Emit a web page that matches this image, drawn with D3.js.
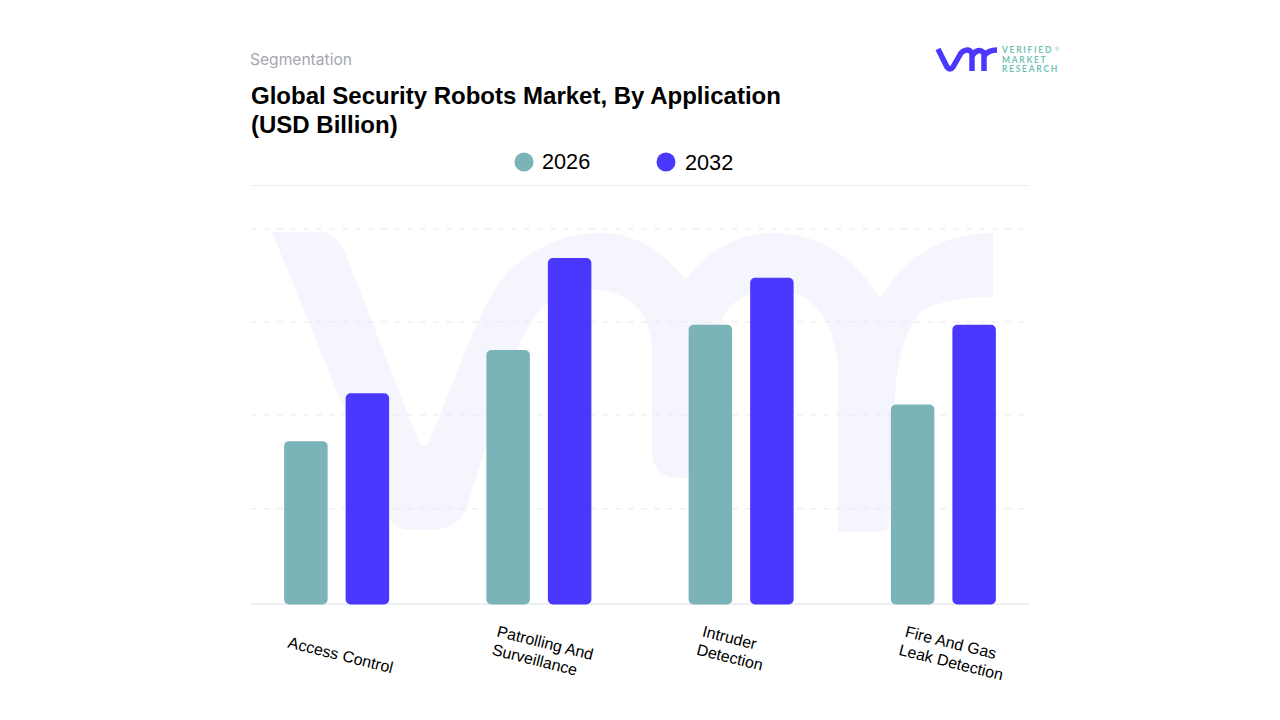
<!DOCTYPE html>
<html>
<head>
<meta charset="utf-8">
<script src="https://cdn.jsdelivr.net/npm/d3@7"></script>
<style>
  html, body { margin: 0; padding: 0; background: #fff; }
  svg { display: block; }
  text { font-family: "Liberation Sans", Arial, sans-serif; }
</style>
</head>
<body>
<div id="chart"></div>
<script>
// values are read off the picture, in gridline units (the chart has no value axis)
var categories = ["Access Control", "Patrolling And Surveillance", "Intruder Detection", "Fire And Gas Leak Detection"];
var categoryLines = [["Access Control"], ["Patrolling And", "Surveillance"], ["Intruder", "Detection"], ["Fire And Gas", "Leak Detection"]];
var years = ["2026", "2032"];
var values2026 = [1.74, 2.71, 2.98, 2.13];
var values2032 = [2.25, 3.69, 3.48, 2.98];
var gridValues = [1.02, 2.02, 3.01, 4];
var colors = ["#7ab3b8", "#4b38ff"];

var svg = d3.select("#chart").append("svg").attr("width", 1280).attr("height", 720);

var y = d3.scaleLinear().domain([0, 4]).range([604.5, 229]);
var x0 = d3.scaleBand().domain(categories).range([235.5, 1044.5]);
var x1 = d3.scaleBand().domain(years).range([0, 105]).paddingInner(0.293);
var groupOffset = (x0.bandwidth() - 105) / 2;

// faint vmr watermark behind the bars
svg.append("path")
  .attr("d", "M272,232 L322,232 Q338,234 346,255 L418,440 Q424,452 430,440 L447,397 L473,333 " +
    "Q488,296 507,273 Q548,233 600,233 Q650,233 685,280 Q722,233 773,233 Q838,233 880,298 " +
    "Q920,233 993,233 L993,297 Q948,297 923,310 Q898,335 895,397 L889,525 Q888,532 880,532 L838,532 " +
    "L838,365 Q830,290 773,290 Q718,292 715,350 L715,478 L678,478 Q652,478 652,450 L652,350 " +
    "Q650,297 600,290 Q560,288 540,310 Q520,335 507,377 L466,510 Q456,530 430,530 L410,530 Q392,530 385,510 Z")
  .attr("fill", "#f4f5fd");

// title block
svg.append("text").attr("x", 250).attr("y", 65).attr("font-size", 15.6).attr("fill", "#a6a6ae")
  .style("font-family", "Inter, sans-serif").text("Segmentation");
svg.append("text").attr("x", 251).attr("y", 104).attr("font-size", 24).attr("font-weight", "bold")
  .attr("fill", "#000").text("Global Security Robots Market, By Application");
svg.append("text").attr("x", 251).attr("y", 133).attr("font-size", 24).attr("font-weight", "bold")
  .attr("fill", "#000").text("(USD Billion)");

// legend
var legendX = [524, 666];
var legendTextX = [542, 685];
var legendTextY = [169, 170];
years.forEach(function (year, i) {
  svg.append("circle").attr("cx", legendX[i]).attr("cy", 162).attr("r", 9.5).attr("fill", colors[i]);
  svg.append("text").attr("x", legendTextX[i]).attr("y", legendTextY[i]).attr("font-size", 21.7)
    .attr("fill", "#000").text(year);
});
svg.append("line").attr("x1", 251).attr("x2", 1029).attr("y1", 185.5).attr("y2", 185.5)
  .attr("stroke", "#eeeeee").attr("stroke-width", 1);

// gridlines
svg.selectAll("line.grid").data(gridValues).enter().append("line").attr("class", "grid")
  .attr("x1", 251).attr("x2", 1029)
  .attr("y1", function (d) { return y(d); }).attr("y2", function (d) { return y(d); })
  .attr("stroke", "#e9e9eb").attr("stroke-width", 1).attr("stroke-dasharray", "6 7");

// baseline
svg.append("line").attr("x1", 251).attr("x2", 1029).attr("y1", 604).attr("y2", 604)
  .attr("stroke", "#eceef2").attr("stroke-width", 2);

// bars
[values2026, values2032].forEach(function (series, s) {
  svg.selectAll("rect.s" + s).data(series).enter().append("rect").attr("class", "s" + s)
    .attr("x", function (d, i) { return x0(categories[i]) + groupOffset + x1(years[s]); })
    .attr("y", function (d) { return y(d); })
    .attr("width", x1.bandwidth())
    .attr("height", function (d) { return y(0) - y(d); })
    .attr("rx", 5)
    .attr("fill", colors[s]);
});

// rotated category labels
var labelY = [655, 652, 648, 653];
var labelDx = [4, 4, -9, 10];
var lineDx = [[0], [0, -6], [-5, 0], [-5, 0]];
categoryLines.forEach(function (lines, i) {
  var cx = x0(categories[i]) + x0.bandwidth() / 2 + labelDx[i];
  var label = svg.append("text")
    .attr("transform", "translate(" + cx + "," + labelY[i] + ") rotate(14)")
    .attr("text-anchor", "middle").attr("font-size", 16).attr("fill", "#000");
  lines.forEach(function (line, j) {
    label.append("tspan").attr("x", lineDx[i][j])
      .attr("y", (j - (lines.length - 1) / 2) * 19 + 5.5).text(line);
  });
});

// logo, top right
svg.append("path")
  .attr("d", "M938,49 L947,67 Q950,71 953,67 L961,53 Q968,47 972,53 L972,71 M972,56 Q978,47 984,53 L984,71 M984,56 Q988,50 997,50")
  .attr("fill", "none").attr("stroke", "#4b38ff").attr("stroke-width", 5.5);
var logoLines = ["VERIFIED", "MARKET", "RESEARCH"];
var logoY = [53, 62.5, 72];
logoLines.forEach(function (line, i) {
  svg.append("text").attr("x", 1002).attr("y", logoY[i]).attr("font-size", 8.5)
    .attr("font-weight", "bold").attr("letter-spacing", 1.7).attr("fill", "#74bfb4")
    .style("font-family", "Lato, sans-serif").text(line);
});
svg.append("text").attr("x", 1055).attr("y", 51).attr("font-size", 6).attr("fill", "#74bfb4").text("®");
</script>
</body>
</html>
